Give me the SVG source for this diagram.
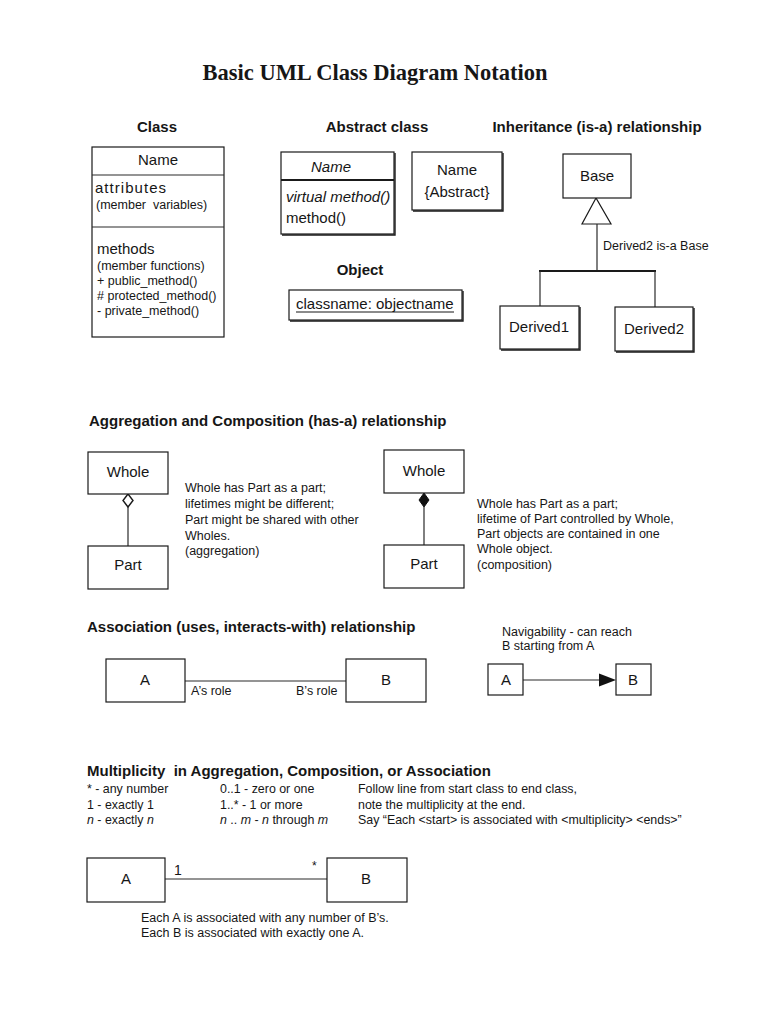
<svg xmlns="http://www.w3.org/2000/svg" width="768" height="1024" viewBox="0 0 768 1024">
<style>
text{font-family:"Liberation Sans",Arial,Helvetica,sans-serif;fill:#161616}
.title{font-family:"Liberation Serif","Times New Roman",serif;font-weight:bold;font-size:22.5px}
.h{font-weight:bold;font-size:15px}
.n{font-size:15px}
.t{font-size:12.5px}
.m{font-size:12.4px}
.c{text-anchor:middle}
.i{font-style:italic}
.box{fill:#fff;stroke:#1a1a1a;stroke-width:1.2}
.sh{fill:none;stroke:#1a1a1a;stroke-width:1.4}
.ln{fill:none;stroke:#2a2a2a;stroke-width:1.2}
</style>
<rect width="768" height="1024" fill="#fff"/>
<text class="title c" x="375" y="80">Basic UML Class Diagram Notation</text>

<!-- section headers -->
<text class="h c" x="157" y="132">Class</text>
<text class="h c" x="377" y="132">Abstract class</text>
<text class="h c" x="597" y="132">Inheritance (is-a) relationship</text>
<text class="h c" x="360" y="275">Object</text>
<text class="h" x="89" y="426">Aggregation and Composition (has-a) relationship</text>
<text class="h" x="87" y="632">Association (uses, interacts-with) relationship</text>
<text class="h" x="87" y="776" xml:space="preserve">Multiplicity  in Aggregation, Composition, or Association</text>

<g id="connectors">
  <!-- inheritance -->
  <polygon points="596,198 582,224 611,224" fill="#fff" stroke="#1a1a1a" stroke-width="1.2"/>
  <line class="ln" x1="597" y1="224" x2="597" y2="271"/>
  <line x1="539" y1="271" x2="656" y2="271" stroke="#1a1a1a" stroke-width="2.2"/>
  <line class="ln" x1="540" y1="271" x2="540" y2="306"/>
  <line class="ln" x1="655" y1="271" x2="655" y2="307"/>
  <text class="t" x="603" y="250">Derived2 is-a Base</text>
  <!-- aggregation -->
  <polygon points="128,494 133,500.5 128,507 123,500.5" fill="#fff" stroke="#1a1a1a" stroke-width="1.4"/>
  <line class="ln" x1="128" y1="507" x2="128" y2="546"/>
  <!-- composition -->
  <polygon points="424,493 429,500 424,507 419,500" fill="#111" stroke="#111" stroke-width="1"/>
  <line class="ln" x1="424" y1="507" x2="424" y2="545"/>
  <!-- association -->
  <line class="ln" x1="185" y1="681" x2="346" y2="681"/>
  <text class="t" x="191" y="695">A’s role</text>
  <text class="t" x="296" y="695">B’s role</text>
  <!-- navigability -->
  <line class="ln" x1="523" y1="680" x2="601" y2="680"/>
  <polygon points="616,680 599,673.5 599,686.5" fill="#111"/>
  <!-- multiplicity -->
  <line class="ln" x1="165" y1="879" x2="327" y2="879"/>
  <text x="174" y="875" font-size="14">1</text>
  <text x="312" y="870" font-size="12">*</text>
</g>

<g id="class">
  <rect class="box" x="92" y="147" width="132" height="190"/>
  <line class="ln" x1="92" y1="175" x2="224" y2="175"/>
  <line class="ln" x1="92" y1="227" x2="224" y2="227"/>
  <text class="n c" x="158" y="165">Name</text>
  <text class="n" x="95" y="193" textLength="71" lengthAdjust="spacing">attributes</text>
  <text class="t" x="96" y="209" xml:space="preserve">(member  variables)</text>
  <text class="n" x="97" y="254">methods</text>
  <text class="t" x="97" y="270">(member functions)</text>
  <text class="t" x="97" y="285">+ public_method()</text>
  <text class="t" x="97" y="300">#  protected_method()</text>
  <text class="t" x="97" y="315">- private_method()</text>
</g>

<g id="abstract-class">
  <rect class="box" x="281" y="152" width="113" height="82"/>
  <polyline class="sh" points="395,153 395,235 282,235"/>
  <line x1="281" y1="180" x2="394" y2="180" stroke="#1a1a1a" stroke-width="2"/>
  <text class="n c i" x="331" y="172">Name</text>
  <text class="n i" x="286" y="202">virtual method()</text>
  <text class="n" x="286" y="223">method()</text>
</g>

<g id="abstract-name">
  <rect class="box" x="412" y="152" width="90" height="58"/>
  <polyline class="sh" points="503,153 503,211 413,211"/>
  <text class="n c" x="457" y="175">Name</text>
  <text class="n c" x="457" y="197">{Abstract}</text>
</g>

<g id="object">
  <rect class="box" x="289" y="290" width="173" height="30"/>
  <polyline class="sh" points="463,291 463,321 290,321"/>
  <text class="n" x="296" y="309">classname: objectname</text>
  <line x1="296" y1="312" x2="454" y2="312" stroke="#161616" stroke-width="1"/>
</g>

<g id="base">
  <rect class="box" x="563" y="154" width="68" height="44"/>
  <text class="n c" x="597" y="181">Base</text>
</g>
<g id="derived1">
  <rect class="box" x="500" y="306" width="79" height="43"/>
  <polyline class="sh" points="580,307 580,350 501,350"/>
  <text class="n c" x="539" y="332">Derived1</text>
</g>
<g id="derived2">
  <rect class="box" x="615" y="307" width="78" height="44"/>
  <polyline class="sh" points="694,308 694,352 616,352"/>
  <text class="n c" x="654" y="334">Derived2</text>
</g>

<g id="whole-aggregation">
  <rect class="box" x="88" y="452" width="80" height="42"/>
  <text class="n c" x="128" y="477">Whole</text>
</g>
<g id="part-aggregation">
  <rect class="box" x="88" y="546" width="80" height="43"/>
  <text class="n c" x="128" y="570">Part</text>
</g>
<g id="aggregation-note">
  <text class="t" x="185" y="492">Whole has Part as a part;</text>
  <text class="t" x="185" y="508">lifetimes might be different;</text>
  <text class="t" x="185" y="524">Part might be shared with other</text>
  <text class="t" x="185" y="540">Wholes.</text>
  <text class="t" x="185" y="555">(aggregation)</text>
</g>

<g id="whole-composition">
  <rect class="box" x="384" y="450" width="80" height="43"/>
  <text class="n c" x="424" y="476">Whole</text>
</g>
<g id="part-composition">
  <rect class="box" x="384" y="545" width="80" height="43"/>
  <text class="n c" x="424" y="569">Part</text>
</g>
<g id="composition-note">
  <text class="t" x="477" y="508">Whole has Part as a part;</text>
  <text class="t" x="477" y="523">lifetime of Part controlled by Whole,</text>
  <text class="t" x="477" y="538">Part objects are contained in one</text>
  <text class="t" x="477" y="553">Whole object.</text>
  <text class="t" x="477" y="569">(composition)</text>
</g>

<g id="assoc-a">
  <rect class="box" x="106" y="659" width="79" height="43"/>
  <text class="n c" x="145" y="685" font-size="16">A</text>
</g>
<g id="assoc-b">
  <rect class="box" x="346" y="659" width="80" height="43"/>
  <text class="n c" x="386" y="685" font-size="16">B</text>
</g>

<g id="nav-note">
  <text class="t" x="502" y="636">Navigability - can reach</text>
  <text class="t" x="502" y="650">B starting from A</text>
</g>
<g id="nav-a">
  <rect class="box" x="488" y="664" width="35" height="31"/>
  <text class="n c" x="506" y="685" font-size="16">A</text>
</g>
<g id="nav-b">
  <rect class="box" x="616" y="664" width="35" height="31"/>
  <text class="n c" x="633" y="685" font-size="16">B</text>
</g>

<g id="multiplicity-legend">
  <text class="m" x="87" y="793">* - any number</text>
  <text class="m" x="87" y="809">1 - exactly 1</text>
  <text class="m" x="87" y="824"><tspan class="i">n</tspan> - exactly <tspan class="i">n</tspan></text>
  <text class="m" x="220" y="793">0..1 - zero or one</text>
  <text class="m" x="220" y="809">1..* - 1 or more</text>
  <text class="m" x="220" y="824"><tspan class="i">n</tspan> .. <tspan class="i">m</tspan> - <tspan class="i">n</tspan> through <tspan class="i">m</tspan></text>
  <text class="m" x="358" y="793">Follow line from start class to end class,</text>
  <text class="m" x="358" y="809">note the multiplicity at the end.</text>
  <text class="m" x="358" y="824">Say “Each &lt;start&gt; is associated with &lt;multiplicity&gt; &lt;ends&gt;”</text>
</g>

<g id="mult-a">
  <rect class="box" x="87" y="858" width="78" height="44"/>
  <text class="n c" x="126" y="884" font-size="16">A</text>
</g>
<g id="mult-b">
  <rect class="box" x="327" y="858" width="80" height="44"/>
  <text class="n c" x="366" y="884" font-size="16">B</text>
</g>
<g id="mult-note">
  <text class="t" x="141" y="922">Each A is associated with any number of B’s.</text>
  <text class="t" x="141" y="937">Each B is associated with exactly one A.</text>
</g>
</svg>
